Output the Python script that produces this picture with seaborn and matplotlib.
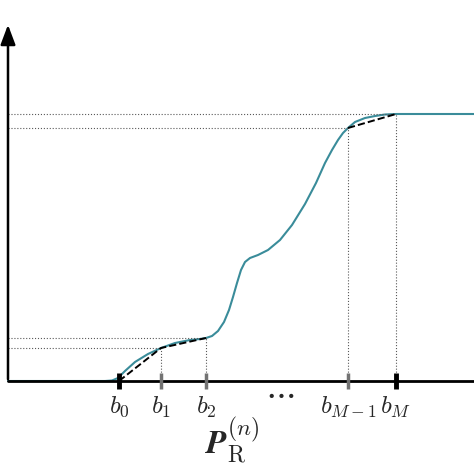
import matplotlib
matplotlib.use("Agg")
import matplotlib.pyplot as plt
import seaborn as sns
import numpy as np

sns.set_style("white")
plt.rcParams['mathtext.fontset'] = 'cm'

# curve in pixel-like units (x right, y measured from top of picture)
curve_x = [8,105,112,118,125,135,148,161,175,190,200,206,212,218,224,229,233,237,241,245,250,258,268,280,292,305,316,325,332,338,343,348,355,365,375,385,396,474]
curve_y = [381,381,380.5,378,371,362,354,348,343,340,339,338,336,331,322,310,297,283,270,262,258,255,250,240,225,204,183,163,150,140,133,128,122,118,116,114.5,114,114]
bx = [119,161,206,348,396]
by = [381,348,338,128,114]
blabels = [r'$b_0$', r'$b_1$', r'$b_2$', r'$b_{M-1}$', r'$b_M$']
H = 474

fig = plt.figure(figsize=(4.74,4.74), dpi=100)
ax = fig.add_axes([0,0,1,1])
ax.set_xlim(0,474); ax.set_ylim(0,474)
ax.axis('off')

cy = [H-v for v in curve_y]
sns.lineplot(x=curve_x, y=cy, ax=ax, color='#3a8c9a', lw=1.5, sort=False, estimator=None)
# dashed piecewise linear
ax.plot(bx[:3], [H-v for v in by[:3]], 'k--', lw=1.4, zorder=3)
ax.plot(bx[3:], [H-v for v in by[3:]], 'k--', lw=1.4, zorder=3)
# dotted guides
for i in [1,2,3,4]:
    ax.plot([8,bx[i]],[H-by[i]]*2, color='0.35', ls=':', lw=0.8)
    ax.plot([bx[i]]*2,[H-381,H-by[i]], color='0.35', ls=':', lw=0.8)
# axes
ax.plot([8,474],[H-381]*2, color='k', lw=2, zorder=4)
ax.annotate('', xy=(8,H-22), xytext=(8,H-382),
            arrowprops=dict(arrowstyle='-|>,head_length=1.2,head_width=0.45', color='k', lw=1.8))
for i,(x,l) in enumerate(zip(bx,blabels)):
    thick = i in (0,4)
    ax.plot([x,x],[H-373,H-389], color='k' if thick else '0.45', lw=3.5 if thick else 2.5, zorder=5,
            solid_capstyle='butt')
    ax.text(x, H-407, l, ha='center', va='center', fontsize=18)
ax.text(280, H-393, r'$\cdots$', ha='center', va='center', fontsize=24, fontweight='bold')
ax.text(232, H-440, r'$\mathbfit{P}_{\mathrm{R}}^{(n)}$', ha='center', va='center', fontsize=24)
fig.savefig('out.png', dpi=100)
